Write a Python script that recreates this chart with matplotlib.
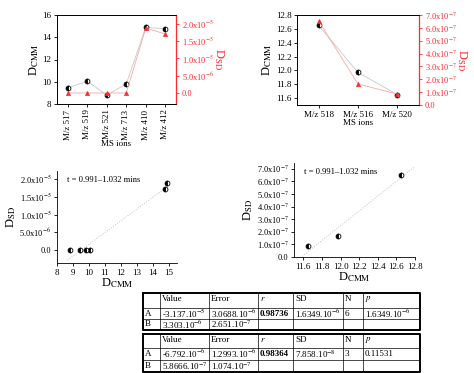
import math
import matplotlib
matplotlib.use('Agg')
import matplotlib.pyplot as plt

plt.rcParams['font.family'] = ['Liberation Serif', 'DejaVu Serif']
plt.rcParams['mathtext.fontset'] = 'stix'

# panel 1: ions, D_CMM (left axis) and D_SD (right axis)
ions_a = ['M/z 517', 'M/z 519', 'M/z 521', 'M/z 713', 'M/z 410', 'M/z 412']
dcmm_a = [9.45, 10.05, 8.8, 9.8, 14.9, 14.75]
dsd_a = [0.0, 0.0, 0.0, 0.0, 1.88e-5, 1.71e-5]

# panel 2
ions_b = ['M/z 518', 'M/z 516', 'M/z 520']
dcmm_b = [12.65, 11.97, 11.65]
dsd_b = [6.53e-7, 1.63e-7, 0.85e-7]

# linear fits (intercept A, slope B) from the tables
fit_a = [-3.137e-5, 3.303e-6]
fit_b = [-6.792e-6, 5.8666e-7]

right_ticks_a = [0.0, 5e-6, 1e-5, 1.5e-5, 2e-5]
right_ticks_b = [0.0, 1e-7, 2e-7, 3e-7, 4e-7, 5e-7, 6e-7, 7e-7]

table_head = ['', 'Value', 'Error', '$r$', 'SD', 'N', '$p$']
table_a = [['A', '-3.137.10$^{-5}$', '3.0688.10$^{-6}$', '0.98736', '1.6349.10$^{-6}$', '6', '1.6349.10$^{-6}$'],
           ['B', '3.303.10$^{-6}$', '2.651.10$^{-7}$', '', '', '', '']]
table_b = [['A', '-6.792.10$^{-6}$', '1.2993.10$^{-6}$', '0.98364', '7.858.10$^{-8}$', '3', '0.11531'],
           ['B', '5.8666.10$^{-7}$', '1.074.10$^{-7}$', '', '', '', '']]

RED = '#ff2a2a'
W, H = 474, 373
TICK = 6.5
SCI = 6


def px(l, t, r, b):
    return [l / W, 1 - b / H, (r - l) / W, (b - t) / H]


def sci_label(v):
    if v == 0:
        return '0.0'
    e = int(math.floor(math.log10(v) + 1e-9))
    m = v / 10 ** e
    return f'{m:.1f}x10$^{{{e}}}$'


def style(ax):
    ax.tick_params(labelsize=TICK, length=2.5, width=0.6, pad=1.5)
    for s in ax.spines.values():
        s.set_linewidth(0.6)


def line_panel(ax, ions, dcmm, dsd, ylim, yticks, rticks, rlim):
    x = list(range(len(ions)))
    ax.plot(x, dcmm, color='#c8c8c8', lw=0.6, zorder=1)
    ax.plot(x, dcmm, 'o', ms=3.5, color='k', fillstyle='left',
            markerfacecoloralt='white', mew=0.6, zorder=3)
    ax.set_ylim(*ylim)
    ax.set_yticks(yticks)
    ax.set_xticks(x)
    ax.set_xlim(-0.55, len(ions) - 0.45)
    ax.set_ylabel('D$_{\\mathrm{CMM}}$', fontsize=9, labelpad=1)
    style(ax)

    ax2 = ax.twinx()
    ax2.plot(x, dsd, color='#f5a8a8', lw=0.6, zorder=1)
    ax2.plot(x, dsd, '^', ms=3, color=RED, mew=0.5, zorder=3)
    ax2.set_ylim(*rlim)
    ax2.set_yticks(rticks)
    ax2.set_yticklabels([sci_label(v) for v in rticks], fontsize=SCI)
    ax2.tick_params(length=2.5, width=0.6, pad=1.5, colors=RED)
    for s in ax2.spines.values():
        s.set_linewidth(0.6)
    ax2.spines['right'].set_color(RED)
    ax2.spines['right'].set_linewidth(0.9)
    ax2.set_ylabel('D$_{\\mathrm{SD}}$', fontsize=9, color=RED, rotation=270, labelpad=9)
    return ax2


def scatter_panel(ax, xs, ys, fit, xlim, xticks, ylim, yticks):
    x0, x1 = min(xs) - 0.15, max(xs) + 0.15
    ax.plot([x0, x1], [fit[0] + fit[1] * x0, fit[0] + fit[1] * x1],
            ls=':', color='#c0c0c0', lw=0.7, zorder=1)
    ax.plot(xs, ys, 'o', ms=3.5, color='k', fillstyle='left',
            markerfacecoloralt='white', mew=0.6, ls='none', zorder=3)
    ax.set_xlim(*xlim)
    ax.set_xticks(xticks)
    ax.set_ylim(*ylim)
    ax.set_yticks(yticks)
    style(ax)
    ax.set_yticklabels([sci_label(v) for v in yticks], fontsize=SCI)
    ax.spines['top'].set_visible(False)
    ax.spines['right'].set_visible(False)
    ax.set_xlabel('D$_{\\mathrm{CMM}}$', fontsize=9, labelpad=0)
    ax.set_ylabel('D$_{\\mathrm{SD}}$', fontsize=9, labelpad=1)
    ax.text(0.08, 0.95, 't = 0.991\u20131.032 mins', transform=ax.transAxes,
            fontsize=6.2, va='top', ha='left')


def draw_table(ax, head, rows, cols, ys):
    for j, h in enumerate(head):
        ax.text(cols[j] + 2, (ys[0] + ys[1]) / 2 - 1.5, h, fontsize=6.5, va='center', ha='left')
    for i, row in enumerate(rows):
        yc = (ys[i + 1] + ys[i + 2]) / 2
        for j, v in enumerate(row):
            ax.text(cols[j] + 2, yc, v, fontsize=6.5, va='center', ha='left',
                    fontweight='bold' if j == 3 else 'normal')
    for y in ys[1:-1]:
        ax.plot([cols[0], cols[-1]], [y, y], color='k', lw=0.5)
    for c in cols[1:-1]:
        ax.plot([c, c], [ys[0], ys[-1]], color='k', lw=0.5)
    ax.plot([cols[0], cols[-1], cols[-1], cols[0], cols[0]],
            [ys[0], ys[0], ys[-1], ys[-1], ys[0]], color='k', lw=1.4)


fig = plt.figure(figsize=(W / 100, H / 100), dpi=100)

ax1 = fig.add_axes(px(57, 15, 176, 104))
line_panel(ax1, ions_a, dcmm_a, dsd_a, (8, 16), [8, 10, 12, 14, 16],
           right_ticks_a, (-3.2e-6, 2.26e-5))
ax1.set_xticklabels(ions_a, rotation=90)
ax1.set_xlabel('MS ions', fontsize=TICK, labelpad=0)

ax2 = fig.add_axes(px(297, 15, 419, 105))
line_panel(ax2, ions_b, dcmm_b, dsd_b, (11.5, 12.8),
           [11.6, 11.8, 12.0, 12.2, 12.4, 12.6, 12.8], right_ticks_b, (0, 7e-7))
ax2.set_xticklabels(ions_b)
ax2.set_xlabel('MS ions', fontsize=TICK, labelpad=0)

ax3 = fig.add_axes(px(57, 171, 177, 263))
scatter_panel(ax3, dcmm_a, dsd_a, fit_a, (8, 15.5), list(range(8, 16)),
              (-3.6e-6, 2.22e-5), right_ticks_a)

ax4 = fig.add_axes(px(294, 163, 415, 257))
scatter_panel(ax4, dcmm_b, dsd_b, fit_b, (11.5, 12.8),
              [11.6, 11.8, 12.0, 12.2, 12.4, 12.6, 12.8], (0, 7.45e-7), right_ticks_b)

axt = fig.add_axes([0, 0, 1, 1])
axt.set_xlim(0, W)
axt.set_ylim(H, 0)
axt.axis('off')
cols = [143, 160, 209, 258, 293, 343, 363, 420]
draw_table(axt, table_head, table_a, cols, [293, 308, 319, 330])
draw_table(axt, table_head, table_b, cols, [334, 348, 360, 372])

fig.savefig('out.png', dpi=100)
